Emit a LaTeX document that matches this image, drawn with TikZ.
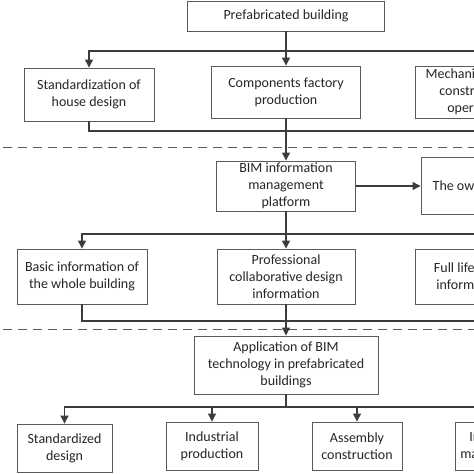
\documentclass[tikz,border=0pt]{standalone}
\usepackage{fontspec}
\setmainfont{Carlito}
\usetikzlibrary{arrows.meta}
\definecolor{boxgray}{HTML}{5A5A5A}
\definecolor{linegray}{HTML}{3C3C3C}
\definecolor{txtgray}{HTML}{262626}
\newcommand\boxfont{\fontsize{14}{17}\selectfont}

\begin{document}
\begin{tikzpicture}[
    x=1pt, y=-1pt,
    box/.style = {draw=boxgray, line width=0.9pt, fill=white, text=txtgray,
        align=center, inner sep=0pt, font=\boxfont},
    link/.style = {draw=linegray, line width=1.2pt},
    tip/.style = {link, -{Triangle[length=8pt,width=8pt]}},
    sep/.style = {draw=boxgray, line width=1pt, dash pattern=on 9pt off 6pt}
     ]
  \useasboundingbox (0,0) rectangle (474,474);
  \clip (0,0) rectangle (474,474);
  % level 1
  \node[box, minimum width=197pt, minimum height=29.5pt] (pb) at (286,16.25) {Prefabricated building};
  \node[box, minimum width=130pt, minimum height=53pt] (std) at (89,94.5) {Standardization of\\house design};
  \node[box, minimum width=149pt, minimum height=52pt] (comp) at (286,92) {Components factory\\production};
  \node[box, minimum width=120pt, minimum height=52pt] (mech) at (475,92) {Mechanization of\\construction\\operation};
  % level 2
  \node[box, minimum width=139pt, minimum height=50pt] (bim) at (286,186) {BIM information\\management\\platform};
  \node[box, minimum width=110pt, minimum height=57pt] (own) at (476,186) {The owner unit};
  \node[box, minimum width=130pt, minimum height=55pt] (basic) at (82,276.5) {Basic information of\\the whole building};
  \node[box, minimum width=138pt, minimum height=55pt] (prof) at (286,276.5) {Professional\\collaborative design\\information};
  \node[box, minimum width=110pt, minimum height=55pt] (life) at (470,276.5) {Full life cycle\\information};
  % level 3
  \node[box, minimum width=184pt, minimum height=58pt] (app) at (286,365) {Application of BIM\\technology in prefabricated\\buildings};
  \node[box, minimum width=95pt, minimum height=48pt] (sd) at (64.5,448) {Standardized\\design};
  \node[box, minimum width=92pt, minimum height=48pt] (ind) at (212,446) {Industrial\\production};
  \node[box, minimum width=90pt, minimum height=48pt] (asm) at (357,446) {Assembly\\construction};
  \node[box, minimum width=86pt, minimum height=48pt] (intl) at (498,446) {Intelligent\\management};

  \coordinate (j1) at (286,51);
  \coordinate (k1) at (286,131);
  \coordinate (j2) at (286,234);
  \coordinate (k2) at (286,321);
  \coordinate (j3) at (286,407);

  \draw[sep] (3,147) -- (480,147);
  \draw[sep] (3,329) -- (480,329);

  \draw[tip] (pb.south) -- (comp.north);
  \draw[tip] (j1) -| (std.north);
  \draw[tip] (j1) -| ([xshift=16pt]mech.north);
  \draw[link] (std.south) |- (k1) -| ([xshift=16pt]mech.south);
  \draw[tip] (comp.south) -- (bim.north);
  \draw[tip] (bim.east) -- (own.west);
  \draw[tip] (bim.south) -- (prof.north);
  \draw[tip] (j2) -| (basic.north);
  \draw[tip] (j2) -| ([xshift=20pt]life.north);
  \draw[link] (basic.south) |- (k2) -| ([xshift=20pt]life.south);
  \draw[tip] (prof.south) -- (app.north);
  \draw[link] (app.south) -- (j3);
  \foreach \n in {sd,ind,asm,intl}
    \draw[tip] (j3) -| (\n.north);
\end{tikzpicture}
\end{document}
